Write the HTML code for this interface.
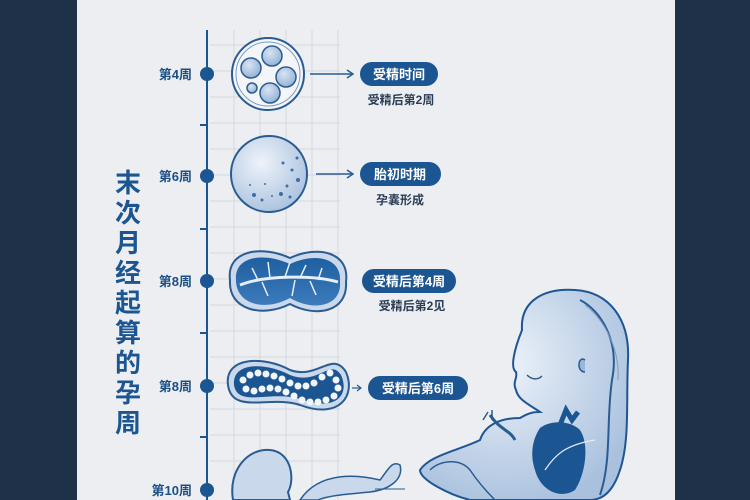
<!DOCTYPE html>
<html><head><meta charset="utf-8"><style>
html,body{margin:0;padding:0;width:750px;height:500px;overflow:hidden;background:#1f3149}
svg{display:block}
text{font-family:"Liberation Sans","Noto Sans CJK SC",sans-serif;font-weight:bold}
</style></head><body>
<svg width="750" height="500" viewBox="0 0 750 500">
<defs>
<radialGradient id="g1" cx="0.4" cy="0.35" r="0.7"><stop offset="0" stop-color="#eef3fa"/><stop offset="1" stop-color="#a9c1de"/></radialGradient>
<radialGradient id="g2" cx="0.4" cy="0.35" r="0.7"><stop offset="0" stop-color="#d8e4f2"/><stop offset="1" stop-color="#8fb0d6"/></radialGradient>
<linearGradient id="g3" x1="0" y1="0" x2="0" y2="1"><stop offset="0" stop-color="#1e5fa0"/><stop offset="1" stop-color="#3d7bbb"/></linearGradient>
</defs>
<rect x="0" y="0" width="750" height="500" fill="#1f3149"/>
<rect x="77" y="0" width="598" height="500" fill="#eceef1"/>
<g stroke="#d4d9e0" stroke-width="1">
<line x1="210" y1="45" x2="340" y2="45"/><line x1="210" y1="71" x2="340" y2="71"/><line x1="210" y1="97" x2="340" y2="97"/><line x1="210" y1="123" x2="340" y2="123"/><line x1="210" y1="149" x2="340" y2="149"/><line x1="210" y1="175" x2="340" y2="175"/><line x1="210" y1="201" x2="340" y2="201"/><line x1="210" y1="227" x2="340" y2="227"/><line x1="210" y1="253" x2="340" y2="253"/><line x1="210" y1="279" x2="340" y2="279"/><line x1="210" y1="305" x2="340" y2="305"/><line x1="210" y1="331" x2="340" y2="331"/><line x1="210" y1="357" x2="340" y2="357"/><line x1="210" y1="383" x2="340" y2="383"/><line x1="210" y1="409" x2="340" y2="409"/><line x1="210" y1="435" x2="340" y2="435"/><line x1="210" y1="461" x2="340" y2="461"/>
<line x1="234" y1="30" x2="234" y2="500"/><line x1="260" y1="30" x2="260" y2="500"/><line x1="286" y1="30" x2="286" y2="500"/><line x1="312" y1="30" x2="312" y2="500"/><line x1="338" y1="30" x2="338" y2="500"/>
</g>
<line x1="207" y1="30" x2="207" y2="500" stroke="#1b5592" stroke-width="2"/>
<g stroke="#1b5592" stroke-width="2"><line x1="200" y1="125" x2="208" y2="125"/><line x1="200" y1="229" x2="208" y2="229"/><line x1="200" y1="333" x2="208" y2="333"/><line x1="200" y1="437" x2="208" y2="437"/></g>
<g fill="#1b5592"><circle cx="207" cy="74" r="7"/><circle cx="207" cy="176" r="7"/><circle cx="207" cy="281" r="7"/><circle cx="207" cy="386" r="7"/><circle cx="207" cy="490" r="7"/></g>
<g fill="#1b4f86" font-size="13" text-anchor="end">
<text x="192" y="79">第4周</text><text x="192" y="181">第6周</text><text x="192" y="286">第8周</text><text x="192" y="391">第8周</text><text x="192" y="495">第10周</text>
</g>
<g fill="#1b5592" font-size="26" text-anchor="middle">
<text x="128" y="192">末</text><text x="128" y="222">次</text><text x="128" y="252">月</text><text x="128" y="282">经</text><text x="128" y="312">起</text><text x="128" y="342">算</text><text x="128" y="372">的</text><text x="128" y="402">孕</text><text x="128" y="432">周</text>
</g>
<circle cx="268" cy="74" r="36" fill="#f3f5f8" stroke="#2a5c91" stroke-width="2"/>
<circle cx="268" cy="74" r="32" fill="none" stroke="#7a9cc3" stroke-width="1"/>
<g fill="url(#g2)" stroke="#2a5c91" stroke-width="1.5">
<circle cx="272" cy="56" r="10"/><circle cx="251" cy="68" r="10"/><circle cx="286" cy="77" r="10"/><circle cx="270" cy="93" r="10"/><circle cx="252" cy="88" r="5"/>
</g>
<line x1="310" y1="74" x2="352" y2="74" stroke="#2a5c91" stroke-width="1.5"/><path d="M347,70 L353,74 L347,78" fill="none" stroke="#2a5c91" stroke-width="1.5"/>
<rect x="360" y="62" width="78" height="24" rx="12" fill="#1b5592"/>
<text x="399" y="79" fill="#fff" font-size="13" text-anchor="middle">受精时间</text>
<text x="401" y="104" fill="#2b3d55" font-size="12" text-anchor="middle">受精后第2周</text>
<circle cx="269" cy="174" r="38" fill="url(#g1)" stroke="#2a5c91" stroke-width="2"/>
<g fill="#3a6ea8"><circle cx="283" cy="163" r="1.5"/><circle cx="292" cy="170" r="1.5"/><circle cx="298" cy="180" r="2"/><circle cx="287" cy="186" r="1.5"/><circle cx="254" cy="195" r="2"/><circle cx="262" cy="200" r="1.5"/><circle cx="272" cy="196" r="1"/><circle cx="281" cy="194" r="2"/><circle cx="290" cy="197" r="1.5"/><circle cx="250" cy="185" r="1"/><circle cx="265" cy="184" r="1"/><circle cx="297" cy="158" r="1.5"/></g>
<line x1="316" y1="174" x2="352" y2="174" stroke="#2a5c91" stroke-width="1.5"/><path d="M347,170 L353,174 L347,178" fill="none" stroke="#2a5c91" stroke-width="1.5"/>
<rect x="360" y="162" width="81" height="24" rx="12" fill="#1b5592"/>
<text x="400" y="179" fill="#fff" font-size="13" text-anchor="middle">胎初时期</text>
<text x="400" y="204" fill="#2b3d55" font-size="12" text-anchor="middle">孕囊形成</text>
<path d="M230,280 C226,250 262,245 290,258 C318,245 350,252 346,282 C348,312 316,318 290,304 C262,318 228,310 230,280 Z" fill="#c9d8ea" stroke="#2a5c91" stroke-width="2"/>
<path d="M236,280 C234,256 264,252 290,264 C316,252 342,258 340,282 C342,306 314,312 290,298 C264,312 236,304 236,280 Z" fill="url(#g3)"/>
<path d="M240,285 C265,275 315,275 338,282" fill="none" stroke="#e6eef8" stroke-width="3"/>
<g stroke="#e6eef8" stroke-width="1.5" fill="none"><path d="M258,280 L252,268"/><path d="M270,278 L268,262"/><path d="M285,277 L290,262"/><path d="M300,278 L306,265"/><path d="M318,280 L322,268"/><path d="M262,282 L268,296"/><path d="M295,280 L292,296"/><path d="M310,281 L316,295"/></g>
<rect x="362" y="269" width="94" height="24" rx="12" fill="#1b5592"/>
<text x="409" y="286" fill="#fff" font-size="13" text-anchor="middle">受精后第4周</text>
<text x="412" y="310" fill="#2b3d55" font-size="12" text-anchor="middle">受精后第2见</text>
<path d="M228,385 C224,356 265,356 290,370 C318,380 332,350 346,372 C356,395 340,420 300,405 C270,395 232,415 228,385 Z" fill="#c9d8ea" stroke="#2a5c91" stroke-width="2"/>
<path d="M234,385 C232,362 265,362 290,375 C318,386 330,358 341,375 C350,395 336,412 300,399 C270,390 238,408 234,385 Z" fill="#1b5592"/>
<g fill="#f2f5fa"><circle cx="243" cy="380" r="3.5"/><circle cx="250" cy="375" r="3.5"/><circle cx="258" cy="373" r="3.5"/><circle cx="266" cy="374" r="3.5"/><circle cx="274" cy="376" r="3.5"/><circle cx="282" cy="379" r="3.5"/><circle cx="290" cy="383" r="3.5"/><circle cx="298" cy="386" r="3.5"/><circle cx="306" cy="386" r="3.5"/><circle cx="314" cy="383" r="3.5"/><circle cx="322" cy="377" r="3.5"/><circle cx="330" cy="373" r="3.5"/><circle cx="336" cy="380" r="3.5"/><circle cx="338" cy="388" r="3.5"/><circle cx="334" cy="396" r="3.5"/><circle cx="326" cy="400" r="3.5"/><circle cx="318" cy="402" r="3.5"/><circle cx="310" cy="402" r="3.5"/><circle cx="302" cy="400" r="3.5"/><circle cx="294" cy="396" r="3.5"/><circle cx="286" cy="392" r="3.5"/><circle cx="278" cy="389" r="3.5"/><circle cx="270" cy="388" r="3.5"/><circle cx="262" cy="389" r="3.5"/><circle cx="254" cy="391" r="3.5"/><circle cx="246" cy="389" r="3.5"/></g>
<path d="M352,388 L360,388" stroke="#2a5c91" stroke-width="1.2"/><path d="M357,385 L361,388 L357,391" fill="none" stroke="#2a5c91" stroke-width="1.2"/>
<rect x="368" y="376" width="100" height="24" rx="12" fill="#1b5592"/>
<text x="418" y="393" fill="#fff" font-size="13" text-anchor="middle">受精后第6周</text>
<path d="M233,500 C228,470 248,448 270,450 C292,452 295,480 288,492 L290,500 Z" fill="#c9d8ea" stroke="#2a5c91" stroke-width="2"/>
<path d="M300,500 C320,470 360,475 380,480 C388,470 392,460 400,465 C404,480 388,490 370,492 C350,494 330,495 318,500 Z" fill="#c9d8ea" stroke="#2a5c91" stroke-width="1.5"/>
<line x1="375" y1="489" x2="405" y2="489" stroke="#2a5c91" stroke-width="1"/>
<path d="M522,330 C520,300 545,288 575,290 C610,292 630,320 628,360 C626,400 630,440 620,470 C612,495 600,500 590,500 L470,500 C450,495 420,480 420,470 C430,455 460,450 480,440 C485,425 500,418 520,418 C530,412 535,412 540,412 C530,405 518,400 516,390 C512,382 518,378 516,372 C510,368 514,350 522,330 Z" fill="url(#g1)" stroke="#1e5592" stroke-width="2"/>
<path d="M580,300 C600,310 620,340 612,380 C606,420 612,460 600,495" fill="none" stroke="#2a5c91" stroke-width="2"/>
<path d="M585,305 C605,320 620,350 618,380" fill="none" stroke="#7a9cc3" stroke-width="1"/>
<path d="M585,360 C578,355 576,372 585,372" fill="#9bb6d6" stroke="#2a5c91" stroke-width="1.5"/>
<path d="M527,375 C532,380 538,380 542,376" fill="none" stroke="#2a5c91" stroke-width="1.5"/>
<path d="M540,428 C550,420 570,420 580,430 C590,445 585,475 575,490 C560,500 540,490 535,470 C530,455 532,440 540,428 Z" fill="#1b5592"/>
<path d="M560,425 L566,410 L572,420 L578,412" fill="none" stroke="#1b5592" stroke-width="5"/>
<path d="M545,470 C555,455 565,445 595,440" fill="none" stroke="#e6eef8" stroke-width="1.2"/>
<path d="M490,415 C500,430 510,430 515,440" fill="none" stroke="#2a5c91" stroke-width="3"/>
<path d="M488,412 l-5,8 M492,410 l0,10" stroke="#2a5c91" stroke-width="1.5"/>
<path d="M430,470 C440,460 460,458 470,470 C480,485 490,495 495,500" fill="none" stroke="#2a5c91" stroke-width="1.5"/>
</svg>
</body></html>
